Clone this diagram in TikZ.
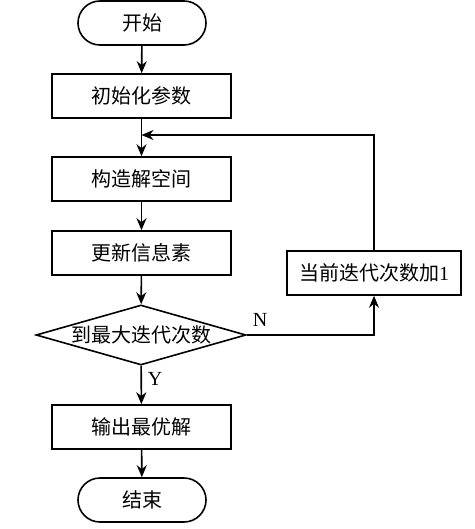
\documentclass[tikz,border=0pt]{standalone}
\usepackage{fontspec}
\setmainfont{Liberation Serif}
\newfontfamily\cjk{Noto Sans CJK SC}
\usetikzlibrary{arrows.meta}
\usetikzlibrary{shapes.geometric}
\usetikzlibrary{positioning,calc}

\tikzset{
	caja/.style={draw, line width=1.6pt, minimum width=179pt, minimum height=44pt, inner sep=0pt, font=\fontsize{20}{20}\selectfont\cjk},
	terminal/.style={draw, line width=1.6pt, rounded corners=22pt, minimum width=128pt, minimum height=44pt, inner sep=0pt, font=\fontsize{20}{20}\selectfont\cjk},
	decision/.style={draw, diamond, aspect=3.5, line width=1.6pt, minimum width=210pt, minimum height=60pt, inner sep=0pt, font=\fontsize{20}{20}\selectfont\cjk},
	flecha/.style={line width=1.6pt, -{Stealth[length=12pt,width=10pt]}},
	etiqueta/.style={font=\fontsize{20}{20}\selectfont}
}

\begin{document}
\begin{tikzpicture}[x=1pt,y=-1pt]
	\useasboundingbox (0,0) rectangle (474,529);

% bloques principales
	\node[terminal] (inicio) at (142,23) {开始};
	\node[caja] (init) at (141.5,96) {初始化参数};
	\node[caja] (construir) at (141.5,179) {构造解空间};
	\node[caja] (actualizar) at (141.5,253) {更新信息素};
	\node[decision] (prueba) at (141,335) {到最大迭代次数};
	\node[caja] (salida) at (141.5,427) {输出最优解};
	\node[terminal] (fin) at (142,500) {结束};

% bucle
	\node[caja, minimum width=174pt] (incremento) at (374,273) {当前迭代次数加{\rmfamily 1}};
	\coordinate (union) at (141.5,135);

% conexiones
	\draw[flecha] (inicio) -- (init);
	\draw[flecha] (init) -- (construir);
	\draw[flecha] (construir) -- (actualizar);
	\draw[flecha] (actualizar) -- (prueba);
	\draw[flecha] (prueba) -- (salida);
	\draw[flecha] (salida) -- (fin);
	\draw[flecha] (prueba.east) -| (incremento.south);
	\draw[flecha] (incremento.north) |- (union);

	\node[etiqueta] (no) at (260,320) {N};
	\node[etiqueta] (si) at (155,379) {Y};
\end{tikzpicture}
\end{document}
